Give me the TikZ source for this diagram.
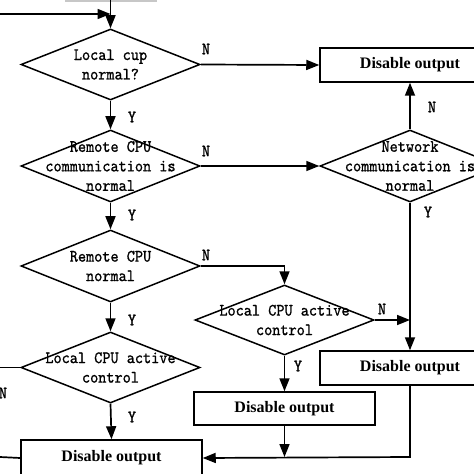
\documentclass[tikz,border=0pt]{standalone}
\usepackage{fontspec}
\newfontfamily\boxfont{Liberation Serif}
\newfontfamily\dmono{lmmono10-regular.otf}[FakeBold=1.0]
\usetikzlibrary{shapes.geometric,arrows.meta}
\tikzset{
  ln/.style={line width=1.7bp},
  arr/.style={ln,-{Triangle[length=13bp,width=10bp]}},
  dec/.style={diamond,draw,line width=1.5bp,inner sep=0pt,minimum width=179bp,minimum height=71bp},
  dtext/.style={align=center,font=\fontsize{15.5bp}{17.4bp}\selectfont\dmono,inner sep=0pt,yscale=1.12,transform shape},
  outbox/.style={draw,line width=1.5bp,inner sep=0pt,minimum width=181bp,minimum height=34bp,font=\fontsize{16bp}{18bp}\selectfont\boxfont\bfseries},
  lab/.style={font=\fontsize{15.5bp}{18bp}\selectfont\dmono,inner sep=0pt,yscale=1.12,transform shape}
}
\begin{document}
\begin{tikzpicture}[x=1bp,y=-1bp]
\useasboundingbox (0,0) rectangle (474,474);
\clip (0,0) rectangle (474,474);
\fill[white] (0,0) rectangle (474,474);
\fill[black!22] (65,0) rectangle (157,2.5);
% decisions
\node[dec] (d1) at (110.5,64.5) {};
\node[dtext] (t1) at (d1.center) {Local cup\\normal?};
\node[dec,minimum height=72bp] (d2) at (110.5,166) {};
\node[dtext] (t2) at (d2.center) {Remote CPU\\communication is\\normal};
\node[dec,minimum height=72bp] (d3) at (110.5,266) {};
\node[dtext] (t3) at (d3.center) {Remote CPU\\normal};
\node[dec] (d5) at (110.5,367.5) {};
\node[dtext] (t5) at (d5.center) {Local CPU active\\control};
\node[dec,minimum width=180bp,minimum height=72bp] (dn) at (410,166) {};
\node[dtext] (tn) at (dn.center) {Network\\communication is\\normal};
\node[dec,minimum height=70bp] (d4) at (284.5,320) {};
\node[dtext] (t4) at (d4.center) {Local CPU active\\control};
% boxes
\node[outbox,minimum width=180bp] (b1) at (410,65) {Disable output};
\node[outbox,minimum width=180bp] (b2) at (410,368) {Disable output};
\node[outbox,minimum height=33bp] (b3) at (284.5,408.5) {Disable output};
\node[outbox,minimum height=36bp] (b4) at (111.5,458) {Disable output};
% free ends
\coordinate (top) at (110.5,0);
\coordinate (inl) at (0,14);
\coordinate (inr) at (110.5,14);
\coordinate (c34) at (284.5,266);
\coordinate (c4r) at (410,320);
\coordinate (c5l) at (0,367.5);
\coordinate (c4l) at (0,457);
\coordinate (cm) at (284.5,457);
\coordinate (cr) at (410,457);
% connectors
\draw[arr] (top) -- (d1.north);
\draw[arr] (inl) -- (inr);
\draw[arr] (d1.east) -- (b1.west);
\draw[arr] (d1.south) -- (d2.north);
\draw[arr] (d2.east) -- (dn.west);
\draw[arr] (d2.south) -- (d3.north);
\draw[arr] (dn.north) -- (b1.south);
\draw[arr] (dn.south) -- (b2.north);
\draw[arr] (d3.east) -- (c34) -- (d4.north);
\draw[arr] (d3.south) -- (d5.north);
\draw[arr] (d4.east) -- (c4r);
\draw[arr] (d4.south) -- (b3.north);
\draw[arr] (d5.south) -- (b4.north);
\draw[ln] (d5.west) -- (c5l);
\draw[ln] (b4.west) -- (c4l);
\draw[arr] (b3.south) -- (cm);
\draw[arr] (b2.south) -- (cr) -- (b4.east);
% labels
\node[lab] (n1) at (206,49) {N};
\node[lab] (y1) at (132,117) {Y};
\node[lab] (n2) at (206,151) {N};
\node[lab] (y2) at (132,215) {Y};
\node[lab] (n3) at (432,107) {N};
\node[lab] (y3) at (428,212) {Y};
\node[lab] (n4) at (206,255) {N};
\node[lab] (y4) at (132,320) {Y};
\node[lab] (n5) at (382,309) {N};
\node[lab] (y5) at (298,366) {Y};
\node[lab] (y6) at (132,417) {Y};
\node[lab] (n6) at (3,393) {N};
\end{tikzpicture}
\end{document}
